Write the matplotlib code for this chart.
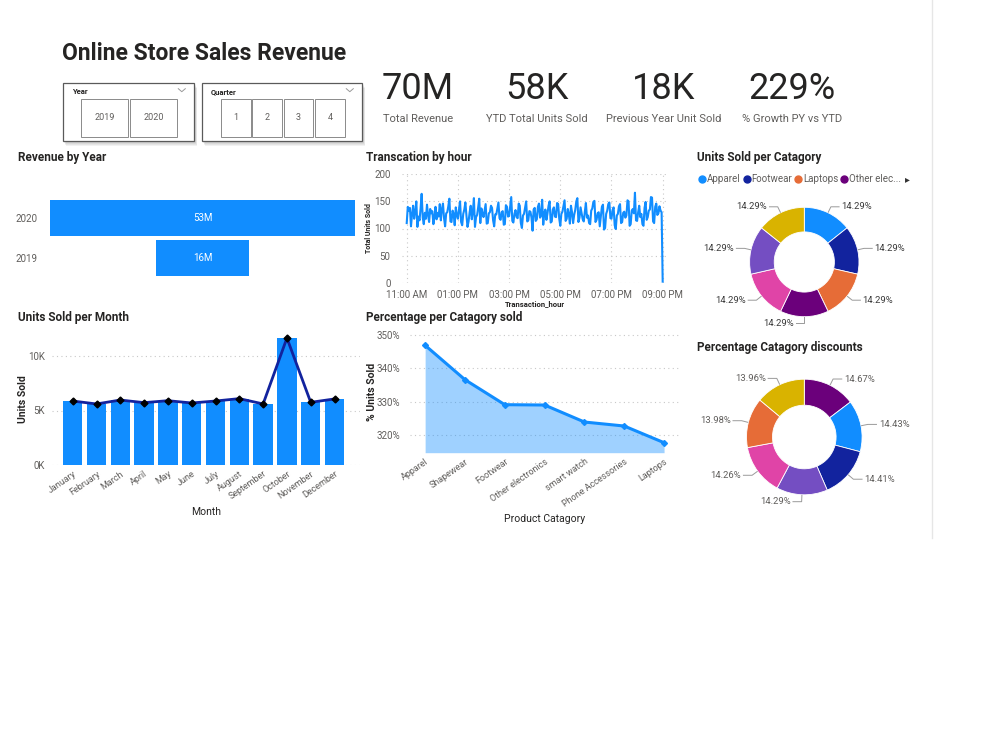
import matplotlib.pyplot as plt
import numpy as np
from matplotlib.patches import Rectangle
from matplotlib.ticker import FuncFormatter

plt.rcParams['font.family'] = ['Roboto', 'DejaVu Sans']

# ---- data ----
years = ['2019', '2020']
revenue_m = [16, 53]

kpi_values = ['70M', '58K', '18K', '229%']
kpi_labels = ['Total Revenue', 'YTD Total Units Sold', 'Previous Year Unit Sold', '% Growth PY vs YTD']

# units sold every 2.5 minutes from 11:00 to 21:00 (one row per hour)
hour_units = [110, 140, 133, 138, 104, 126, 142, 118, 131, 150, 103, 122, 115, 137, 164, 120, 108, 129, 118, 144, 125, 112, 136, 128,
              132, 108, 121, 140, 117, 129, 122, 145, 115, 136, 146, 119, 104, 128, 130, 141, 155, 113, 112, 133, 127, 106, 139, 124,
              118, 135, 150, 112, 106, 127, 135, 148, 124, 103, 113, 130, 142, 117, 131, 156, 103, 121, 125, 139, 155, 110, 137, 128,
              121, 133, 145, 109, 110, 128, 130, 142, 138, 115, 104, 126, 126, 137, 148, 119, 116, 130, 132, 107, 108, 143, 140, 122,
              123, 140, 158, 114, 111, 127, 134, 121, 119, 146, 142, 110, 101, 124, 127, 139, 150, 113, 115, 132, 131, 120, 96, 135,
              138, 114, 117, 140, 146, 120, 124, 153, 107, 128, 135, 116, 128, 142, 150, 111, 113, 135, 139, 122, 121, 147, 145, 118,
              105, 127, 131, 142, 152, 114, 118, 136, 126, 109, 142, 130, 110, 125, 134, 150, 156, 112, 120, 139, 128, 117, 113, 131,
              147, 120, 124, 110, 108, 133, 137, 149, 151, 112, 116, 128, 130, 104, 122, 140, 144, 98, 101, 127, 133, 145, 148, 119,
              118, 134, 139, 106, 99, 124, 127, 141, 145, 110, 112, 129, 131, 120, 124, 152, 150, 105, 108, 133, 136, 128, 166, 115,
              114, 130, 142, 121, 127, 108, 105, 138, 149, 116, 121, 133, 135, 158, 157, 113, 110, 140, 146, 125, 128, 141, 133, 130,
              2]
hour_ticks = [11, 13, 15, 17, 19, 21]
hour_tick_labels = ['11:00 AM', '01:00 PM', '03:00 PM', '05:00 PM', '07:00 PM', '09:00 PM']

months = ['January', 'February', 'March', 'April', 'May', 'June', 'July',
          'August', 'September', 'October', 'November', 'December']
month_units = [5870, 5600, 5960, 5720, 5900, 5690, 5870, 6090, 5600, 11650, 5750, 6060]

cat_sold = ['Apparel', 'Shapewear', 'Footwear', 'Other electronics',
            'smart watch', 'Phone Accessories', 'Laptops']
pct_sold = [346.9, 336.6, 329.1, 329.0, 323.9, 322.7, 317.7]

units_cats = ['Apparel', 'Footwear', 'Laptops', 'Other electronics',
              'Phone Accessories', 'Shapewear', 'smart watch']
units_pct = [14.29, 14.29, 14.29, 14.29, 14.29, 14.29, 14.29]

disc_cats = ['Other electronics', 'Apparel', 'Footwear', 'Shapewear',
             'Phone Accessories', 'Laptops', 'smart watch']
disc_pct = [14.67, 14.43, 14.41, 14.29, 14.26, 13.98, 13.96]

cat_colors = {'Apparel': '#118DFF', 'Footwear': '#12239E', 'Laptops': '#E66C37',
              'Other electronics': '#6B007B', 'Phone Accessories': '#E044A7',
              'Shapewear': '#744EC2', 'smart watch': '#D9B300'}

BLUE = '#118DFF'
DARK = '#252423'
GRAY = '#605E5C'
GRID = '#C8C8C8'

fig = plt.figure(figsize=(10, 7.5), dpi=100)


def px_axes(l, t, r, b):
    return fig.add_axes([l / 1000, 1 - b / 750, (r - l) / 1000, (b - t) / 750])


bg = fig.add_axes([0, 0, 1, 1], zorder=-1)
bg.set_xlim(0, 1000)
bg.set_ylim(750, 0)
bg.axis('off')

# title and page line
bg.text(62, 53, 'Online Store Sales Revenue', fontsize=16.5, fontweight='bold',
        color=DARK, va='center')
bg.plot([932, 932], [0, 538], color='#E6E6E6', lw=1)


# slicers
def slicer(x0, x1, y0, y1, name, buttons, bx):
    for k in range(5, 0, -1):
        bg.add_patch(Rectangle((x0 + k * 0.6, y0 + k * 1.0), x1 - x0, y1 - y0,
                               facecolor='black', alpha=0.05, lw=0))
    bg.add_patch(Rectangle((x0, y0), x1 - x0, y1 - y0, facecolor='white',
                           edgecolor='#5A5A5A', lw=0.9))
    bg.text(x0 + 9, y0 + 9, name, fontsize=5.5, fontweight='bold', color=DARK, va='center')
    bg.plot([x1 - 16, x1 - 12.5, x1 - 9], [y0 + 6, y0 + 9, y0 + 6], color='#999999', lw=0.7)
    for lab, (a, b) in zip(buttons, bx):
        bg.add_patch(Rectangle((a, 99.3), b - a, 37.4, facecolor='white',
                               edgecolor='#8A8A8A', lw=0.7))
        bg.text((a + b) / 2, 118, lab, fontsize=6.5, color=GRAY, ha='center', va='center')


slicer(62.7, 194.3, 82.7, 140.7, 'Year', years, [(81, 128.3), (130, 177.3)])
slicer(201.7, 362.3, 82.7, 140.7, 'Quarter', ['1', '2', '3', '4'],
       [(220.7, 250.7), (252.3, 282), (283.7, 313.3), (315, 344.7)])

# KPI cards
for cx, v, lab in zip([418, 537, 664, 792], kpi_values, kpi_labels):
    bg.text(cx, 89, v, fontsize=26, color=DARK, ha='center', va='center')
    bg.text(cx, 118.5, lab, fontsize=8, color=GRAY, ha='center', va='center')

# section titles
for x, y, t in [(18, 158, 'Revenue by Year'), (366, 158, 'Transcation by hour'),
                (697, 158, 'Units Sold per Catagory'), (18, 318, 'Units Sold per Month'),
                (366, 318, 'Percentage per Catagory sold'),
                (697, 347, 'Percentage Catagory discounts')]:
    bg.text(x, y, t, fontsize=8.5, fontweight='bold', color=DARK, va='center')


def clean(ax):
    for s in ax.spines.values():
        s.set_visible(False)
    ax.tick_params(length=0, colors=GRAY, labelsize=7)


# ---- Revenue by Year (funnel) ----
ax = px_axes(50, 190, 355, 286)
top = max(revenue_m)
lefts = [(top - v) / 2 for v in revenue_m]
ax.barh(range(len(years)), revenue_m, left=lefts, height=0.9, color=BLUE)
for i, v in enumerate(revenue_m):
    ax.text(top / 2, i, f'{v}M', color='white', fontsize=7, ha='center', va='center')
ax.set_xlim(0, top)
ax.set_ylim(-0.7, 1.7)
ax.set_yticks(range(len(years)))
ax.set_yticklabels(years)
ax.set_xticks([])
clean(ax)
ax.tick_params(axis='y', pad=9)

# ---- Transaction by hour ----
ax = px_axes(401.6, 174.3, 667.8, 282.7)
hx = 11 + np.arange(len(hour_units)) * (2.5 / 60)
ax.plot(hx, hour_units, color=BLUE, lw=1.5, clip_on=False)
ax.set_xlim(10.8, 21.2)
ax.set_ylim(0, 200)
ax.set_xticks(hour_ticks)
ax.set_xticklabels(hour_tick_labels)
ax.set_yticks([0, 50, 100, 150, 200])
ax.grid(True, color=GRID, ls=(0, (1, 3)), lw=0.8)
ax.set_axisbelow(True)
clean(ax)
ax.tick_params(axis='y', pad=8)
ax.tick_params(axis='x', pad=5)
ax.set_xlabel('Transaction_hour', fontsize=5.5, fontweight='bold', color=DARK, labelpad=0)
ax.set_ylabel('Total Units Sold', fontsize=5, fontweight='bold', color=DARK, labelpad=1)

# ---- Units Sold per Month ----
ax = px_axes(52, 334.2, 360, 465)
xm = np.arange(len(months))
ax.bar(xm, month_units, width=0.81, color=BLUE, zorder=2)
ax.plot(xm, month_units, color='#12239E', lw=2, marker='D', markersize=3.5,
        markerfacecolor='black', markeredgecolor='black', zorder=3)
ax.set_xlim(-0.87, 12.07)
ax.set_ylim(0, 12000)
ax.set_yticks([0, 5000, 10000])
ax.yaxis.set_major_formatter(FuncFormatter(lambda v, p: f'{int(v / 1000)}K'))
ax.set_xticks(xm)
ax.set_xticklabels(months, rotation=35, ha='right', rotation_mode='anchor')
ax.grid(True, axis='y', color=GRID, ls=(0, (1, 3)), lw=0.8)
ax.set_axisbelow(True)
clean(ax)
ax.tick_params(axis='y', pad=5)
ax.tick_params(axis='x', pad=3, labelsize=6.5)
ax.set_xlabel('Month', fontsize=7.5, color=DARK, labelpad=4)
ax.set_ylabel('Units Sold', fontsize=7.5, fontweight='bold', color=DARK, labelpad=0)

# ---- Percentage per Catagory sold ----
ax = px_axes(410, 332, 680, 452.7)
xc = np.arange(len(cat_sold))
ybot = 314.7
ax.fill_between(xc, ybot, pct_sold, color=BLUE, alpha=0.4, lw=0)
ax.plot(xc, pct_sold, color=BLUE, lw=2.2, marker='D', markersize=3)
ax.set_xlim(-0.38, 6.4)
ax.set_ylim(ybot, 350.9)
ax.set_yticks([320, 330, 340, 350])
ax.yaxis.set_major_formatter(FuncFormatter(lambda v, p: f'{int(v)}%'))
ax.set_xticks(xc)
ax.set_xticklabels(cat_sold, rotation=35, ha='right', rotation_mode='anchor')
ax.grid(True, axis='y', color=GRID, ls=(0, (1, 3)), lw=0.8)
ax.set_axisbelow(True)
clean(ax)
ax.tick_params(axis='y', pad=7)
ax.tick_params(axis='x', pad=3, labelsize=6.5)
ax.set_xlabel('Product Catagory', fontsize=7.5, color=DARK, labelpad=4)
ax.set_ylabel('% Units Sold', fontsize=7.5, fontweight='bold', color=DARK, labelpad=0)


# ---- donuts ----
def donut(cx, cy, r, cats, vals, txtcolor):
    half = 1.7 * r
    ax = px_axes(cx - half, cy - half, cx + half, cy + half)
    wedges, _ = ax.pie(vals, colors=[cat_colors[c] for c in cats], startangle=90,
                       counterclock=False, radius=1,
                       wedgeprops=dict(width=0.45, edgecolor='white', linewidth=0.6))
    for w, v in zip(wedges, vals):
        ang = np.deg2rad((w.theta1 + w.theta2) / 2)
        c, s = np.cos(ang), np.sin(ang)
        side = 1 if c > 0.01 else -1
        x1, y1 = 1.12 * c, 1.12 * s
        x2 = x1 + side * 0.15
        ax.plot([1.01 * c, x1, x2], [1.01 * s, y1, y1], color='#9A9A9A', lw=0.7, clip_on=False)
        ax.text(x2 + side * 0.04, y1, f'{v:.2f}%', fontsize=6.8, color=txtcolor,
                ha='left' if side > 0 else 'right', va='center')
    ax.set_xlim(-1.7, 1.7)
    ax.set_ylim(-1.7, 1.7)
    ax.set_aspect('equal')
    ax.axis('off')


donut(804.3, 262, 54.7, units_cats, units_pct, '#3A3A3A')
donut(804.3, 437, 57.8, disc_cats, disc_pct, GRAY)

# legend for units donut
for (dx, tx), cat, lab in zip([(701.7, 706.5), (746.7, 751.5), (797.7, 803), (844, 849)],
                              units_cats[:4], ['Apparel', 'Footwear', 'Laptops', 'Other elec...']):
    bg.plot(dx, 179.3, 'o', color=cat_colors[cat], markersize=5)
    bg.text(tx, 179.3, lab, fontsize=7, color=GRAY, va='center')
bg.text(907.3, 179, '\u25B8', fontsize=7, color='#333333', ha='center', va='center',
        family=['DejaVu Sans'])

fig.savefig('out.png', dpi=100)
